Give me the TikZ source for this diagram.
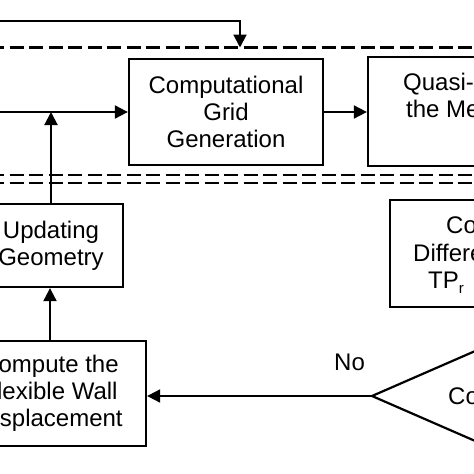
\documentclass[tikz,border=0pt]{standalone}
\usepackage{fontspec}
\setmainfont{Liberation Sans}
\usetikzlibrary{arrows.meta}
\begin{document}
\begin{tikzpicture}[x=1pt,y=-1pt,
  txt/.style={font=\fontsize{24}{27}\selectfont},
  box/.style={draw,line width=2.3pt,inner sep=0pt,align=center,txt},
  lbl/.style={inner sep=0pt,anchor=base west,txt},
  arr/.style={line width=2pt,-{Triangle[length=13pt,width=13pt]}},
  dline/.style={line width=2.2pt,dash pattern=on 14pt off 5.5pt}]
\useasboundingbox (0,0) rectangle (474,474);
\clip (0,0) rectangle (474,474);
\fill[white] (0,0) rectangle (474,474);
% dashed separators
\draw[dline] (-10,47.5) -- (484,47.5);
\draw[dline] (-10,175) -- (484,175);
\draw[dline] (-10,183) -- (484,183);
% boxes
\node[box,minimum width=194pt,minimum height=106pt] (grid) at (226,112) {Computational\\Grid\\Generation};
\node[box,minimum width=200pt,minimum height=109pt] (quasi) at (468,111.5) {};
\node[lbl] (q1) at (403,90) {Quasi-};
\node[lbl] (q2) at (406,117) {the Me};
\node[box,minimum width=200pt,minimum height=107pt] (cbox) at (490,253.5) {};
\node[lbl] (c1) at (446,233) {Co};
\node[lbl] (c2) at (413,261) {Differe};
\node[lbl] (c3) at (428,288) {TP\raisebox{-5pt}{\fontsize{15}{15}\selectfont r}};
\node[box,minimum width=144pt,minimum height=83pt] (upd) at (51,245.5) {Updating\\Geometry};
\node[box,minimum width=192pt,minimum height=105pt] (comp) at (50,393.5) {Compute the\\Flexible Wall\\Displacement};
% decision
\coordinate (dl) at (372,396);
\draw[line width=2.2pt] (dl) -- (600,296.6) -- (828,396) -- (600,495.4) -- cycle;
\node[lbl] (d1) at (448,404) {Co};
\node[lbl] (no) at (334,370) {No};
% connectors
\coordinate (lin) at (-10,112);
\coordinate (tl) at (-10,21);
\coordinate (tt) at (240,47.5);
\draw[arr] (lin) -- (grid.west);
\draw[arr] (grid.east) -- (grid.east -| quasi.west);
\draw[arr] (upd.north) -- (upd.north |- lin);
\draw[arr] (comp.north) -- (comp.north |- upd.south);
\draw[arr] (tl) -| (tt);
\draw[arr] (dl) -- (dl -| comp.east);
\end{tikzpicture}
\end{document}
